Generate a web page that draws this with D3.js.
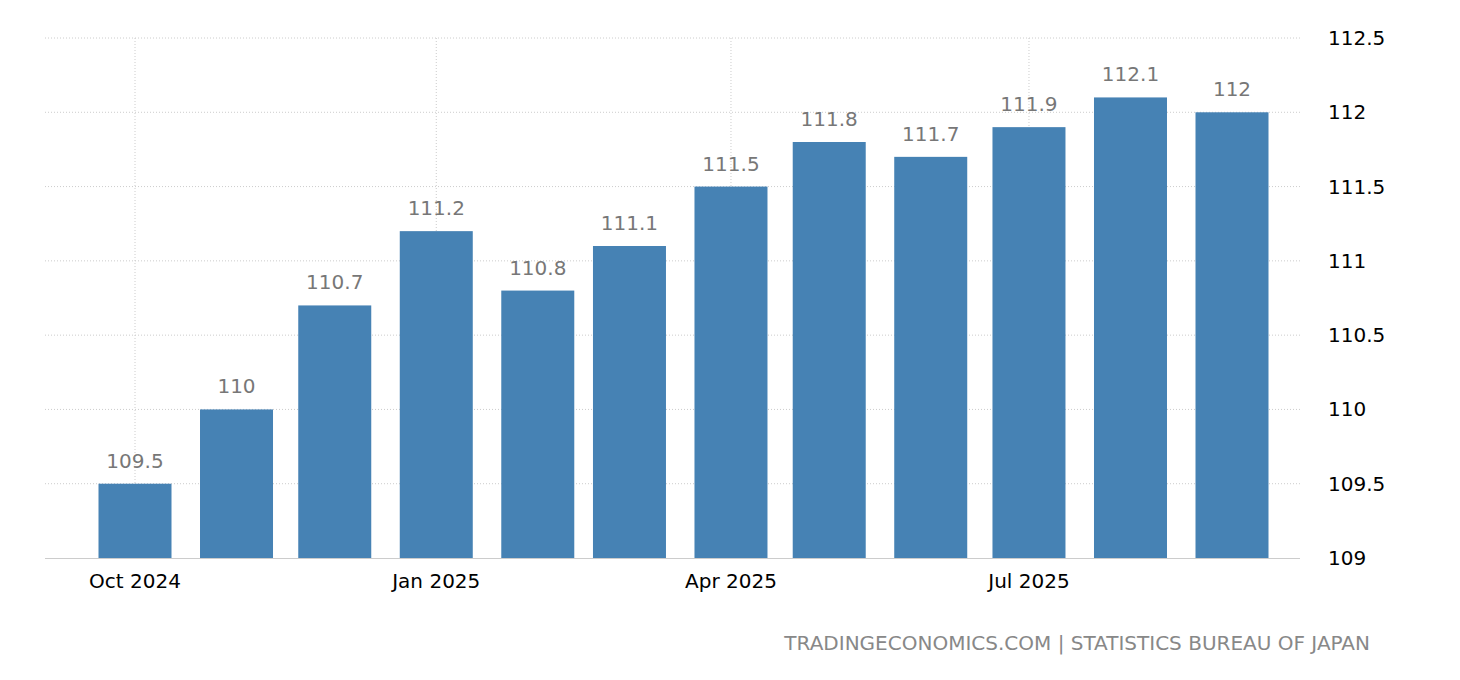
<!DOCTYPE html>
<html><head><meta charset="utf-8">
<script src="https://cdn.jsdelivr.net/npm/d3@7"></script>
<style>body{margin:0;background:#fff}svg{font-family:"DejaVu Sans",sans-serif}</style>
</head><body><div id="chart"></div>
<script>
var months = ["2024-10","2024-11","2024-12","2025-01","2025-02","2025-03","2025-04","2025-05","2025-06","2025-07","2025-08","2025-09"];
var values = [109.5,110,110.7,111.2,110.8,111.1,111.5,111.8,111.7,111.9,112.1,112];
var yTicks = [109,109.5,110,110.5,111,111.5,112,112.5];
var xTickMonths = ["2024-10","2025-01","2025-04","2025-07"];

var parse = d3.timeParse("%Y-%m");
var data = months.map(function(m, i){ return {date: parse(m), value: values[i]}; });

var svg = d3.select("#chart").append("svg").attr("width",1460).attr("height",680);

var x = d3.scaleTime()
    .domain([parse("2024-10"), parse("2025-09")])
    .range([135, 1232]);
var y = d3.scaleLinear().domain([109,112.5]).range([558,38]);

// grid
svg.selectAll(".hgrid").data(yTicks.slice(1)).enter().append("line")
    .attr("x1",45).attr("x2",1300)
    .attr("y1",function(d){return y(d)}).attr("y2",function(d){return y(d)})
    .style("stroke","#ccc").style("stroke-dasharray","1,2");
svg.selectAll(".vgrid").data(xTickMonths).enter().append("line")
    .attr("x1",function(d){return x(parse(d))}).attr("x2",function(d){return x(parse(d))})
    .attr("y1",38).attr("y2",558)
    .style("stroke","#ccc").style("stroke-dasharray","1,2");

// bars
var bw = 73;
svg.selectAll(".bar").data(data).enter().append("rect")
    .attr("x",function(d){return x(d.date)-bw/2})
    .attr("y",function(d){return y(d.value)})
    .attr("width",bw)
    .attr("height",function(d){return 558-y(d.value)})
    .style("fill","#4682b4");

svg.selectAll(".lbl").data(data).enter().append("text")
    .attr("x",function(d){return x(d.date)})
    .attr("y",function(d){return y(d.value)-16})
    .attr("text-anchor","middle")
    .style("font-size","20px").style("fill","#777")
    .text(function(d){return d.value});

// baseline
svg.append("line").attr("x1",45).attr("x2",1300).attr("y1",558.5).attr("y2",558.5).style("stroke","#ccc");

// x axis labels
var fmt = d3.timeFormat("%b %Y");
svg.selectAll(".xt").data(xTickMonths).enter().append("text")
    .attr("x",function(d){return x(parse(d))}).attr("y",588)
    .attr("text-anchor","middle").style("font-size","20px").style("fill","#000")
    .text(function(d){return fmt(parse(d))});

// y axis labels
svg.selectAll(".yt").data(yTicks).enter().append("text")
    .attr("x",1328).attr("y",function(d){return y(d)+7})
    .style("font-size","20px").style("fill","#000")
    .text(function(d){return d});

svg.append("text").attr("x",1370).attr("y",650).attr("text-anchor","end")
    .style("font-size","20px").style("fill","#888")
    .text("TRADINGECONOMICS.COM | STATISTICS BUREAU OF JAPAN");
</script></body></html>
